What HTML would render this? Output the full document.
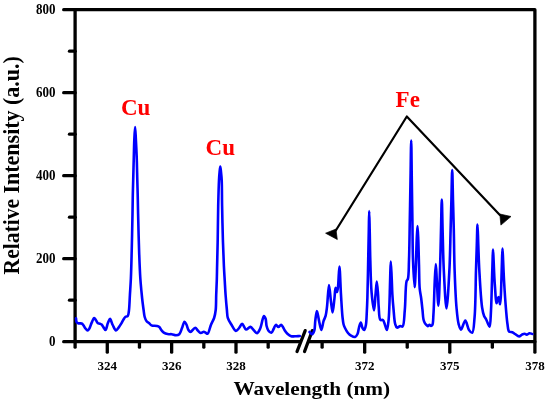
<!DOCTYPE html>
<html><head><meta charset="utf-8"><style>
html,body{margin:0;padding:0;background:#fff;width:550px;height:401px;overflow:hidden}
svg{display:block}
</style></head><body>
<svg width="550" height="401" viewBox="0 0 550 401" font-family="'Liberation Serif', 'Times New Roman', serif" font-weight="bold">
<g stroke="#000" stroke-width="3.3" stroke-linecap="round" stroke-linejoin="round" fill="none">
<polyline points="75.1,341.7 75.1,9.7 534.9,9.7 534.9,341.7"/>
<line x1="75.1" y1="341.7" x2="300.9" y2="341.7" stroke-linecap="butt"/>
<line x1="308.6" y1="341.7" x2="534.9" y2="341.7" stroke-linecap="butt"/>
<line x1="75.1" y1="341.70" x2="63.70" y2="341.70"/><line x1="75.1" y1="300.20" x2="69.50" y2="300.20"/><line x1="75.1" y1="258.70" x2="63.70" y2="258.70"/><line x1="75.1" y1="217.20" x2="69.50" y2="217.20"/><line x1="75.1" y1="175.70" x2="63.70" y2="175.70"/><line x1="75.1" y1="134.20" x2="69.50" y2="134.20"/><line x1="75.1" y1="92.70" x2="63.70" y2="92.70"/><line x1="75.1" y1="51.20" x2="69.50" y2="51.20"/><line x1="75.1" y1="9.70" x2="63.70" y2="9.70"/><line x1="75.10" y1="341.7" x2="75.10" y2="347.20"/><line x1="107.28" y1="341.7" x2="107.28" y2="352.20"/><line x1="139.46" y1="341.7" x2="139.46" y2="347.20"/><line x1="171.64" y1="341.7" x2="171.64" y2="352.20"/><line x1="203.82" y1="341.7" x2="203.82" y2="347.20"/><line x1="236.00" y1="341.7" x2="236.00" y2="352.20"/><line x1="268.18" y1="341.7" x2="268.18" y2="347.20"/><line x1="322.12" y1="341.7" x2="322.12" y2="347.20"/><line x1="364.68" y1="341.7" x2="364.68" y2="352.20"/><line x1="407.23" y1="341.7" x2="407.23" y2="347.20"/><line x1="449.79" y1="341.7" x2="449.79" y2="352.20"/><line x1="492.34" y1="341.7" x2="492.34" y2="347.20"/><line x1="534.90" y1="341.7" x2="534.90" y2="352.20"/>
</g>
<g stroke="#fff" stroke-width="4">
<line x1="301.5" y1="341.7" x2="308" y2="341.7"/>
</g>
<g stroke="#000" stroke-width="3.2" stroke-linecap="round">
<line x1="297" y1="351.6" x2="305.2" y2="330.6"/>
<line x1="304.5" y1="351.6" x2="312.3" y2="330.6"/>
</g>
<g fill="none" stroke="#0000ff" stroke-width="2.6" stroke-linejoin="round" stroke-linecap="round">
<path d="M76.00,318.30 C76.20,319.60 76.09,321.35 76.60,322.20 C76.95,322.78 77.45,323.07 78.10,323.30 C78.99,323.62 80.69,323.11 81.60,323.50 C82.34,323.82 82.74,324.43 83.30,325.10 C84.04,325.99 84.73,327.55 85.50,328.50 C86.14,329.29 86.85,330.51 87.50,330.50 C88.15,330.49 88.82,329.41 89.40,328.50 C90.25,327.16 90.78,324.67 91.60,322.90 C92.38,321.21 93.35,318.18 94.20,318.10 C94.81,318.04 95.43,319.52 96.00,320.30 C96.60,321.12 96.98,322.33 97.70,322.90 C98.32,323.39 99.22,323.40 99.90,323.70 C100.51,323.97 101.10,324.17 101.60,324.60 C102.15,325.08 102.47,325.78 103.00,326.50 C103.71,327.47 104.76,330.01 105.50,329.90 C106.47,329.75 107.05,324.98 107.90,323.00 C108.57,321.43 109.28,318.88 110.00,318.90 C110.87,318.92 111.68,323.06 112.70,325.00 C113.69,326.89 114.89,330.29 116.00,330.40 C116.86,330.49 117.77,328.65 118.60,327.60 C119.52,326.44 120.39,325.04 121.20,323.70 C122.02,322.34 122.72,320.72 123.50,319.50 C124.16,318.48 124.71,317.34 125.50,316.80 C126.15,316.36 127.15,316.77 127.70,316.20 C128.54,315.33 128.58,313.23 128.90,311.00 C129.46,307.14 129.57,300.41 129.90,295.00 C130.24,289.42 130.62,284.32 130.90,278.00 C131.25,270.04 131.45,260.71 131.70,251.00 C131.99,239.64 132.31,224.30 132.50,214.00 C132.64,206.62 132.67,200.96 132.80,195.00 C132.91,189.70 133.05,185.53 133.20,180.00 C133.38,173.15 133.60,164.09 133.80,157.00 C133.97,150.91 134.06,145.29 134.30,140.00 C134.51,135.37 134.83,127.00 135.10,127.00 C135.37,127.00 135.65,135.38 135.90,140.00 C136.19,145.29 136.48,150.90 136.70,157.00 C136.96,164.09 137.12,173.15 137.30,180.00 C137.45,185.53 137.57,189.70 137.70,195.00 C137.84,200.96 137.92,206.62 138.10,214.00 C138.35,224.30 138.69,239.64 139.10,251.00 C139.45,260.71 139.84,270.80 140.30,278.00 C140.61,282.80 140.97,286.41 141.30,290.00 C141.57,292.94 141.83,295.53 142.10,298.00 C142.33,300.14 142.55,302.00 142.80,304.00 C143.05,306.00 143.30,307.92 143.60,310.00 C143.93,312.25 144.11,314.98 144.70,317.00 C145.18,318.64 145.76,320.27 146.60,321.30 C147.27,322.12 148.22,322.35 149.00,323.00 C149.85,323.70 150.39,324.88 151.50,325.40 C152.90,326.05 155.58,325.62 157.00,326.00 C157.95,326.25 158.61,326.43 159.30,327.00 C160.16,327.72 160.71,329.33 161.50,330.30 C162.22,331.18 162.86,331.98 163.80,332.60 C164.85,333.29 166.28,333.83 167.60,334.10 C168.94,334.37 170.41,334.02 171.80,334.20 C173.21,334.38 174.69,335.24 176.00,335.20 C177.17,335.16 178.39,335.01 179.30,334.20 C180.57,333.08 181.14,330.17 182.00,328.10 C182.87,326.00 183.63,321.80 184.50,321.70 C185.11,321.63 185.81,323.37 186.40,324.50 C187.18,325.99 187.64,328.71 188.50,330.00 C189.09,330.89 189.69,331.89 190.50,331.90 C191.73,331.92 193.89,327.64 195.20,327.70 C196.22,327.75 196.87,329.62 197.80,330.50 C198.74,331.39 199.75,332.83 200.80,333.00 C201.76,333.15 202.93,331.78 203.80,331.80 C204.48,331.81 204.99,332.29 205.60,332.60 C206.26,332.94 206.97,334.02 207.60,333.80 C208.86,333.36 209.75,327.66 210.90,324.90 C211.93,322.43 213.30,320.43 214.10,318.00 C214.92,315.48 215.34,313.10 215.70,310.00 C216.19,305.80 216.02,300.00 216.20,295.00 C216.38,290.00 216.65,284.91 216.80,280.00 C216.95,275.25 216.98,271.38 217.10,266.00 C217.26,258.66 217.53,249.25 217.70,240.00 C217.90,229.43 217.96,216.57 218.20,206.00 C218.41,196.75 218.67,186.18 219.00,180.00 C219.18,176.57 219.36,174.41 219.60,172.00 C219.80,169.99 220.07,166.50 220.30,166.50 C220.53,166.50 220.78,169.99 221.00,172.00 C221.26,174.42 221.52,176.57 221.70,180.00 C222.02,186.18 221.92,196.75 222.10,206.00 C222.31,216.57 222.57,229.43 222.90,240.00 C223.19,249.25 223.55,258.67 223.90,266.00 C224.16,271.38 224.42,275.25 224.70,280.00 C224.99,284.91 225.23,290.00 225.60,295.00 C225.97,300.00 226.48,305.81 226.90,310.00 C227.21,313.02 227.06,315.38 227.80,317.80 C228.52,320.14 229.89,322.17 231.20,324.30 C232.57,326.54 234.39,330.74 235.90,330.90 C237.00,331.02 238.10,329.11 239.10,328.00 C240.18,326.80 241.04,323.89 242.10,323.90 C243.32,323.91 244.49,329.06 246.00,329.40 C247.31,329.69 249.07,326.72 250.40,326.90 C251.74,327.08 252.82,329.42 254.00,330.50 C255.05,331.46 256.13,333.24 257.10,333.10 C258.26,332.93 259.34,330.36 260.30,328.30 C261.73,325.23 262.75,316.15 263.90,316.00 C264.48,315.92 265.17,317.59 265.60,318.80 C266.24,320.60 266.07,323.91 266.60,326.00 C267.03,327.70 267.44,329.34 268.30,330.50 C269.07,331.53 270.44,332.96 271.30,332.80 C272.23,332.62 272.86,330.30 273.60,329.00 C274.36,327.67 274.91,325.08 275.80,324.90 C276.55,324.75 277.53,327.00 278.40,327.00 C279.29,327.00 280.30,324.71 281.10,324.80 C281.90,324.89 282.58,326.55 283.20,327.50 C283.82,328.45 284.15,329.51 284.80,330.50 C285.52,331.58 286.37,332.77 287.40,333.70 C288.48,334.68 289.88,335.79 291.20,336.20 C292.39,336.57 293.58,336.32 294.90,336.30 C296.42,336.27 298.17,336.10 299.80,336.00"/>
<path d="M309.50,332.00 C310.33,332.73 311.24,334.31 312.00,334.20 C312.87,334.07 313.75,332.11 314.30,330.50 C315.13,328.06 314.86,323.87 315.30,320.60 C315.73,317.37 316.29,311.02 316.90,311.00 C317.52,310.98 318.26,317.43 319.00,320.60 C319.73,323.73 320.53,329.90 321.30,329.90 C322.06,329.90 322.77,323.44 323.60,320.90 C324.23,318.97 325.07,317.84 325.60,315.90 C326.29,313.37 326.55,310.56 327.00,306.90 C327.70,301.21 328.28,285.01 329.00,285.00 C329.63,284.99 330.33,296.93 331.00,301.90 C331.53,305.85 332.07,312.50 332.60,312.50 C333.20,312.49 333.88,303.20 334.40,298.90 C334.87,295.04 334.98,287.97 335.60,287.90 C335.98,287.86 336.61,291.93 337.00,291.90 C337.43,291.87 337.70,289.14 338.00,286.90 C338.60,282.42 338.94,266.60 339.40,266.60 C339.94,266.60 340.45,286.05 341.00,294.90 C341.49,302.72 341.92,311.58 342.50,317.00 C342.84,320.17 343.06,322.50 343.60,324.50 C343.98,325.91 344.38,326.76 345.00,328.00 C345.77,329.55 346.88,331.67 348.00,333.00 C348.92,334.10 349.86,334.94 351.00,335.60 C352.18,336.28 353.90,337.30 355.00,337.00 C356.05,336.71 356.86,335.29 357.50,334.00 C358.33,332.32 358.41,329.51 359.00,327.50 C359.53,325.71 360.23,322.49 360.80,322.50 C361.40,322.51 361.75,326.68 362.50,328.00 C363.01,328.90 363.79,330.11 364.30,330.00 C365.01,329.85 365.50,327.09 365.90,325.00 C366.53,321.71 366.55,316.46 366.80,312.00 C367.06,307.28 367.21,303.39 367.40,297.40 C367.70,287.81 367.96,271.78 368.20,260.00 C368.42,249.45 368.62,238.86 368.80,230.00 C368.94,222.95 369.05,211.00 369.20,211.00 C369.35,211.00 369.54,222.95 369.70,230.00 C369.91,238.86 369.99,249.79 370.30,260.00 C370.62,270.67 370.79,283.48 371.60,292.70 C372.20,299.51 373.34,310.41 374.00,310.40 C374.62,310.39 375.02,299.96 375.50,295.00 C375.95,290.35 376.37,281.50 376.80,281.50 C377.23,281.50 377.78,290.64 378.10,295.00 C378.40,299.09 378.33,302.85 378.70,306.90 C379.08,311.15 378.90,318.53 380.40,319.90 C381.06,320.50 382.21,319.52 382.90,320.00 C383.91,320.70 384.33,323.33 385.00,325.00 C385.66,326.66 386.36,330.05 386.90,330.00 C387.64,329.93 388.19,323.68 388.60,320.00 C389.10,315.52 389.19,310.16 389.40,305.00 C389.63,299.51 389.75,293.49 389.90,288.00 C390.04,282.84 390.14,277.67 390.30,273.00 C390.44,268.91 390.60,261.50 390.80,261.50 C391.05,261.50 391.43,272.46 391.70,278.00 C391.97,283.62 392.07,289.51 392.40,295.00 C392.71,300.16 393.12,305.09 393.60,310.00 C394.06,314.75 394.28,320.91 395.20,324.00 C395.69,325.65 396.12,327.30 397.00,327.60 C397.84,327.89 399.28,326.12 400.30,326.00 C401.12,325.90 401.97,326.94 402.60,326.50 C404.28,325.32 404.19,316.27 404.80,310.00 C405.61,301.74 405.34,285.30 406.60,281.20 C406.97,279.98 407.55,280.16 407.90,279.00 C408.86,275.84 408.71,267.50 409.00,260.00 C409.42,249.12 409.55,233.33 409.80,220.00 C410.05,206.67 410.27,193.29 410.50,180.00 C410.73,166.79 410.98,140.50 411.20,140.50 C411.42,140.50 411.60,166.79 411.80,180.00 C412.00,193.29 412.20,206.67 412.40,220.00 C412.60,233.33 412.56,247.95 413.00,260.00 C413.37,269.94 414.09,287.20 414.60,287.20 C415.06,287.20 415.55,272.62 415.90,265.00 C416.27,256.92 416.38,247.13 416.70,240.00 C416.94,234.66 417.23,226.00 417.50,226.00 C417.77,226.00 418.07,234.66 418.30,240.00 C418.60,247.13 418.76,256.78 419.00,265.00 C419.23,273.01 419.16,282.84 419.70,288.70 C420.02,292.19 420.58,293.92 421.00,297.00 C421.52,300.84 422.06,306.00 422.50,310.00 C422.88,313.41 422.91,317.06 423.50,319.50 C423.89,321.12 424.39,322.43 425.00,323.40 C425.44,324.10 425.98,324.52 426.50,325.00 C426.98,325.45 427.50,326.21 428.00,326.20 C428.50,326.19 428.99,324.92 429.50,324.90 C429.99,324.88 430.51,326.01 431.00,326.00 C431.48,325.99 432.03,325.57 432.40,324.90 C433.27,323.31 433.15,318.31 433.40,315.00 C433.65,311.68 433.73,309.02 433.90,305.00 C434.16,298.91 434.36,289.20 434.70,282.00 C435.01,275.63 435.44,264.00 435.80,264.00 C436.14,264.00 436.43,274.04 436.80,280.00 C437.27,287.54 437.90,305.60 438.40,305.60 C438.98,305.59 439.57,282.21 440.00,270.00 C440.45,257.06 440.68,242.43 441.00,230.00 C441.28,219.15 441.53,199.50 441.80,199.50 C442.07,199.50 442.29,219.15 442.60,230.00 C442.95,242.43 443.14,256.81 443.80,270.00 C444.45,282.94 445.57,308.40 446.50,308.40 C447.43,308.40 448.72,282.94 449.40,270.00 C450.10,256.81 450.25,242.38 450.60,230.00 C450.90,219.28 451.13,210.00 451.40,200.00 C451.67,190.00 451.93,170.00 452.20,170.00 C452.47,170.00 452.73,190.00 453.00,200.00 C453.27,210.00 453.55,219.28 453.80,230.00 C454.09,242.38 454.14,256.89 454.60,270.00 C455.05,282.71 455.59,297.49 456.50,307.50 C457.11,314.22 457.60,320.33 458.70,324.30 C459.34,326.62 460.09,329.58 461.00,329.60 C462.19,329.62 463.97,320.56 465.30,320.60 C466.63,320.64 467.52,327.81 469.00,329.90 C469.96,331.26 471.36,333.01 472.20,332.70 C473.84,332.10 473.99,323.52 474.60,316.80 C475.63,305.33 475.59,283.17 476.00,270.00 C476.30,260.37 476.54,252.92 476.80,245.00 C477.04,237.83 477.25,224.50 477.50,224.50 C477.75,224.50 478.02,237.83 478.30,245.00 C478.61,252.92 478.77,260.83 479.30,270.00 C479.94,281.24 480.87,299.43 482.10,307.50 C482.70,311.41 483.21,313.94 484.10,316.10 C484.70,317.55 485.57,318.28 486.20,319.50 C486.88,320.80 487.39,322.42 488.00,323.70 C488.53,324.82 489.17,326.89 489.60,326.80 C490.53,326.62 490.63,316.86 491.00,310.60 C491.51,302.01 491.71,289.12 492.00,280.00 C492.23,272.63 492.41,265.60 492.60,260.00 C492.74,255.94 492.83,249.50 493.00,249.50 C493.17,249.50 493.40,256.03 493.60,260.00 C493.86,265.20 494.10,272.61 494.40,278.00 C494.64,282.41 494.95,286.34 495.20,290.00 C495.41,293.08 495.51,296.09 495.80,298.50 C496.02,300.30 496.29,303.19 496.60,303.20 C496.89,303.21 497.22,300.13 497.60,299.00 C497.87,298.20 498.23,296.98 498.50,297.00 C498.82,297.03 499.07,298.90 499.30,300.00 C499.58,301.30 499.78,304.31 500.00,304.30 C500.29,304.29 500.59,299.94 500.80,297.00 C501.12,292.52 501.21,285.90 501.40,280.00 C501.61,273.60 501.79,265.75 502.00,260.00 C502.16,255.64 502.32,248.50 502.50,248.50 C502.68,248.50 502.89,255.64 503.10,260.00 C503.38,265.75 503.58,272.63 504.00,280.00 C504.52,289.12 505.40,302.43 506.10,310.60 C506.57,316.08 506.89,320.46 507.50,324.30 C507.95,327.13 507.91,330.45 509.10,331.60 C509.88,332.36 511.32,331.80 512.30,332.20 C513.28,332.60 514.00,333.37 515.00,334.00 C516.21,334.76 517.87,336.43 519.10,336.40 C520.13,336.38 520.95,335.06 521.90,334.60 C522.78,334.18 523.76,333.67 524.60,333.70 C525.35,333.73 525.95,334.61 526.70,334.60 C527.57,334.59 528.55,333.41 529.50,333.30 C530.42,333.20 531.37,333.70 532.30,333.90"/>
</g>
<g font-size="13" fill="#000">
<text transform="translate(55.6,345.60) scale(1,1.13)" text-anchor="end">0</text><text transform="translate(55.6,262.60) scale(1,1.13)" text-anchor="end">200</text><text transform="translate(55.6,179.60) scale(1,1.13)" text-anchor="end">400</text><text transform="translate(55.6,96.60) scale(1,1.13)" text-anchor="end">600</text><text transform="translate(55.6,13.60) scale(1,1.13)" text-anchor="end">800</text>
<text transform="translate(107.28,370) scale(1,1.0)" text-anchor="middle">324</text><text transform="translate(171.64,370) scale(1,1.0)" text-anchor="middle">326</text><text transform="translate(236.00,370) scale(1,1.0)" text-anchor="middle">328</text><text transform="translate(364.68,370) scale(1,1.0)" text-anchor="middle">372</text><text transform="translate(449.79,370) scale(1,1.0)" text-anchor="middle">375</text><text transform="translate(534.90,370) scale(1,1.0)" text-anchor="middle">378</text>
</g>
<text transform="translate(233.5,395.3) scale(1,0.93)" font-size="21.3" fill="#000">Wavelength (nm)</text>
<g font-size="22" fill="#000">
<text transform="translate(19.35,274.4) rotate(-90) scale(1,1.08)" textLength="75.6" lengthAdjust="spacingAndGlyphs">Relative</text>
<text transform="translate(19.35,193.5) rotate(-90) scale(1,1.08)">Intensity (a.u.)</text>
</g>
<g font-size="23" fill="#ff0000">
<text x="121" y="115.4">Cu</text>
<text x="205.6" y="154.9">Cu</text>
<text x="395.6" y="106.5">Fe</text>
</g>
<g stroke="#000" stroke-width="2.2" fill="none" stroke-linejoin="round">
<polyline points="335.5,231 406.8,116.5 500.3,215.4"/>
</g>
<g fill="#000" stroke="#000" stroke-width="0.7" stroke-linejoin="round">
<polygon points="325.6,233.2 335.9,229.1 337.3,239.5"/>
<polygon points="499.8,214 511,216.5 500.9,225.1"/>
</g>
</svg>
</body></html>
